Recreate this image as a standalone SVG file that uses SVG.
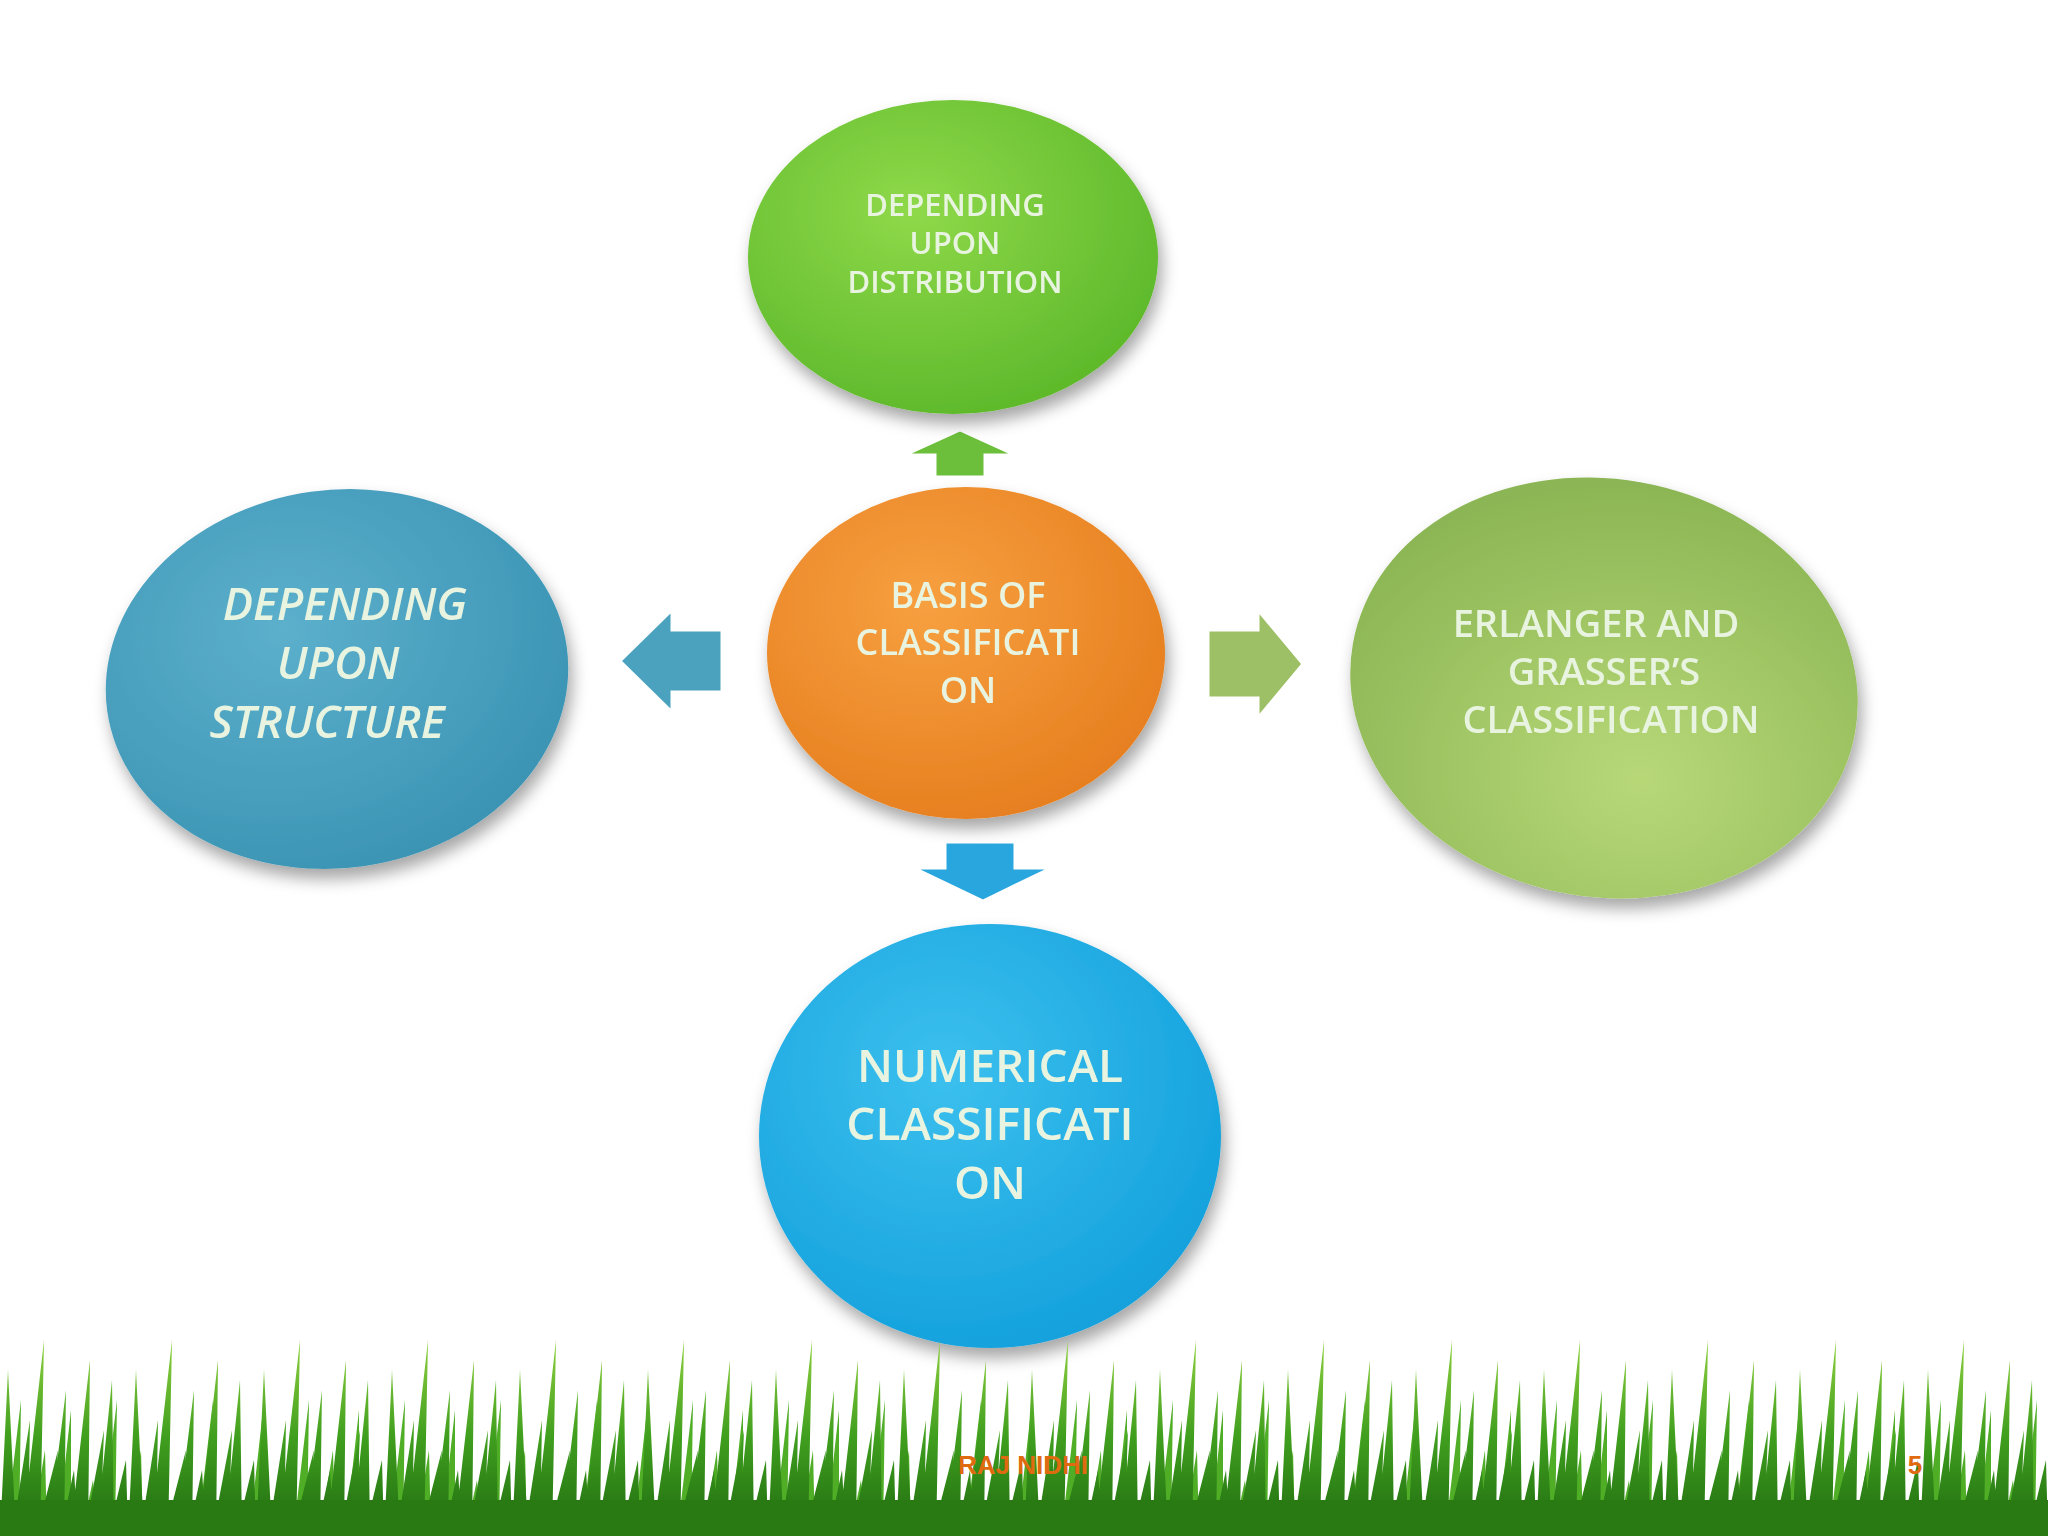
<svg xmlns="http://www.w3.org/2000/svg" width="2048" height="1536" viewBox="0 0 2048 1536">
<defs>
<radialGradient id="gTop" cx="0.4" cy="0.35" r="0.7"><stop offset="0" stop-color="#8fd94a"/><stop offset="1" stop-color="#5cb82a"/></radialGradient>
<radialGradient id="gMid" cx="0.4" cy="0.35" r="0.7"><stop offset="0" stop-color="#f7a040"/><stop offset="1" stop-color="#e67e1e"/></radialGradient>
<radialGradient id="gLeft" cx="0.4" cy="0.35" r="0.7"><stop offset="0" stop-color="#5cb0cc"/><stop offset="1" stop-color="#3a93b3"/></radialGradient>
<radialGradient id="gRight" cx="0.6" cy="0.7" r="0.7"><stop offset="0" stop-color="#b8d878"/><stop offset="1" stop-color="#8cb654"/></radialGradient>
<radialGradient id="gBot" cx="0.4" cy="0.35" r="0.7"><stop offset="0" stop-color="#3cc0ee"/><stop offset="1" stop-color="#13a0dc"/></radialGradient>
<filter id="sh" x="-20%" y="-20%" width="140%" height="150%"><feDropShadow dx="4" dy="10" stdDeviation="8" flood-opacity="0.35"/></filter>
<linearGradient id="grass" x1="0" y1="0" x2="0" y2="1"><stop offset="0" stop-color="#8fd040"/><stop offset="0.5" stop-color="#3f9e1e"/><stop offset="1" stop-color="#1f6a10"/></linearGradient>
<pattern id="blades" patternUnits="userSpaceOnUse" x="0" y="1330" width="128" height="206">
<path fill="url(#grass)" d="M0,206 L8,40 L16,206 Z M12,206 L30,90 L28,206 Z M22,206 L44,10 L40,206 Z M36,206 L58,120 L52,206 Z M48,206 L66,60 L64,206 Z M60,206 L74,140 L78,206 Z M70,206 L90,30 L88,206 Z M84,206 L104,100 L100,206 Z M96,206 L112,50 L114,206 Z M108,206 L126,130 L128,206 Z"/>
</pattern>
<pattern id="blades2" patternUnits="userSpaceOnUse" x="57" y="1330" width="96" height="206">
<path fill="#4fae26" d="M0,206 L14,80 L14,206 Z M24,206 L36,150 L40,206 Z M44,206 L60,70 L58,206 Z M70,206 L84,120 L86,206 Z"/>
</pattern>
</defs>
<style>
text{font-family:"Open Sans","Liberation Sans",sans-serif;fill:#e8f4e0;text-anchor:middle;font-weight:600}
.arr{stroke:#ffffff;stroke-width:3}
</style>
<rect width="2048" height="1536" fill="#ffffff"/>
<g id="connectors">
<polygon class="arr" fill="#6cbf3a" points="905,455 960,430 1015,455 985,455 985,477 935,477 935,455"/>
<polygon class="arr" fill="#4aa2bf" points="722,630 672,630 672,610 620,661 672,712 672,692 722,692"/>
<polygon class="arr" fill="#9dbf66" points="1208,630 1258,630 1258,610 1303,664 1258,718 1258,698 1208,698"/>
<polygon class="arr" fill="#2aa6de" points="945,842 1015,842 1015,868 1051,868 983,901 914,868 945,868"/>
</g>
<g id="top" filter="url(#sh)"><ellipse cx="953" cy="257" rx="205" ry="157" fill="url(#gTop)"/>
<text font-size="31" x="955" y="216">DEPENDING</text><text font-size="31" x="955" y="254">UPON</text><text font-size="31" x="955" y="293">DISTRIBUTION</text></g>
<g id="center" filter="url(#sh)"><ellipse cx="966" cy="653" rx="199" ry="166" fill="url(#gMid)"/>
<text font-size="36" x="968" y="608">BASIS OF</text><text font-size="36" x="968" y="655">CLASSIFICATI</text><text font-size="36" x="968" y="703">ON</text></g>
<g id="left" filter="url(#sh)"><ellipse cx="337" cy="679" rx="232" ry="189" fill="url(#gLeft)" transform="rotate(-8 337 679)"/>
<text font-size="45" font-style="italic" x="345" y="620">DEPENDING</text><text font-size="45" font-style="italic" x="338" y="679">UPON</text><text font-size="45" font-style="italic" x="327" y="738">STRUCTURE</text></g>
<g id="right" filter="url(#sh)"><ellipse cx="1604" cy="688" rx="255" ry="209" fill="url(#gRight)" transform="rotate(10 1604 688)"/>
<text font-size="38" x="1596" y="637">ERLANGER AND</text><text font-size="38" x="1604" y="685">GRASSER’S</text><text font-size="38" x="1611" y="733">CLASSIFICATION</text></g>
<g id="bottom" filter="url(#sh)"><ellipse cx="990" cy="1136" rx="231" ry="212" fill="url(#gBot)"/>
<text font-size="46" x="990" y="1082">NUMERICAL</text><text font-size="46" x="990" y="1140">CLASSIFICATI</text><text font-size="46" x="990" y="1199">ON</text></g>
<g id="grass">
<rect x="0" y="1330" width="2048" height="206" fill="url(#blades2)"/>
<rect x="0" y="1330" width="2048" height="206" fill="url(#blades)"/>
<rect x="0" y="1500" width="2048" height="36" fill="#2a7a14"/>
</g>
<text x="1023" y="1474" font-size="26" font-weight="bold" style="fill:#e06a10;font-family:'Liberation Sans',sans-serif">RAJ NIDHI</text>
<text x="1915" y="1474" font-size="26" font-weight="bold" style="fill:#e06a10;font-family:'Liberation Sans',sans-serif">5</text>
</svg>
